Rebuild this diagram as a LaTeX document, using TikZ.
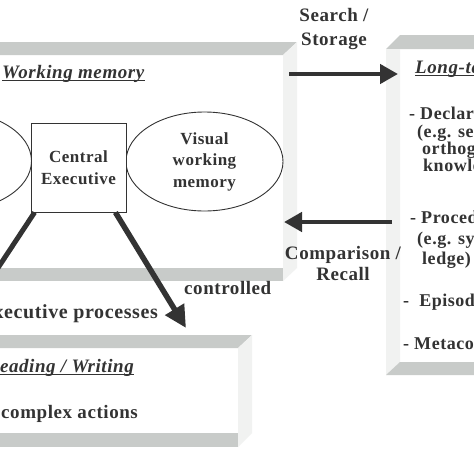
\documentclass[tikz,border=0pt]{standalone}
\usepackage{fontspec}
\setmainfont{Liberation Serif}[LetterSpace=3]
\usetikzlibrary{arrows.meta,shapes.geometric}
\definecolor{ink}{HTML}{333333}
\definecolor{barg}{HTML}{C8CBC9}
\definecolor{sideg}{HTML}{F1F2F1}
\newcommand\bodyf{\fontsize{19}{23}\selectfont\bfseries}
\newcommand\widef{\fontsize{20}{23}\selectfont\bfseries}
\newcommand\smallf{\fontsize{17}{21.5}\selectfont\bfseries}
\newcommand\ltmf{\fontsize{18}{17}\selectfont\bfseries}
\newcommand\hdf{\fontsize{19}{23}\selectfont\bfseries\itshape}
\begin{document}
\begin{tikzpicture}[x=1pt,y=-1pt,
  txt/.style={text=ink,inner sep=0pt,font=\bodyf},
  ltm/.style={text=ink,inner sep=0pt,font=\ltmf,anchor=base west},
  hd/.style={text=ink,inner sep=0pt,font=\hdf},
  ul/.style={draw=ink,line width=1.3pt},
  cebox/.style={draw=ink,line width=0.9pt,fill=white,minimum width=95pt,minimum height=89pt,inner sep=0pt,align=center,font=\smallf,text=ink},
  ell/.style={ellipse,draw=ink,line width=0.9pt,fill=white,minimum width=157pt,minimum height=99pt,inner sep=0pt,align=center,font=\smallf,text=ink},
  heavy/.style={draw=ink,line width=5pt},
  bigarrow/.style={draw=ink,line width=4.5pt,-{Triangle[length=18pt,width=19pt]}},
  slantarrow/.style={draw=ink,line width=5.5pt,-{Triangle[length=22pt,width=21pt]}}]
\useasboundingbox (0,0) rectangle (474,474);
\clip (0,0) rectangle (474,474);
\fill[white] (0,0) rectangle (474,474);
% working memory box
\fill[barg] (-20,42) -- (297,42) -- (283,55) -- (-20,55) -- cycle;
\fill[sideg] (283,55) -- (297,42) -- (297,268) -- (283,281) -- cycle;
\fill[barg] (-20,268) rectangle (283,281);
% long-term memory box
\fill[barg] (386,49) -- (400,35) -- (490,35) -- (490,49) -- cycle;
\fill[sideg] (386,49) -- (400,49) -- (400,362) -- (386,375) -- cycle;
\fill[barg] (386,375) -- (400,362) -- (490,362) -- (490,375) -- cycle;
% reading / writing box
\fill[barg] (-20,335) -- (252,335) -- (238,348) -- (-20,348) -- cycle;
\fill[sideg] (238,348) -- (252,335) -- (252,433) -- (238,447) -- cycle;
\fill[barg] (-20,433) rectangle (238,447);
% working memory content
\node[hd,anchor=base west] (wmt) at (2,78) {Working memory};
\draw[ul] ([yshift=-2.5pt]wmt.base west) -- ([yshift=-2.5pt]wmt.base east);
\node[ell] (pl) at (-47,161) {};
\node[ell] (vwm) at (204.5,161.5) {Visual\\working\\memory};
\node[cebox] (ce) at (78.5,167.5) {Central\\Executive};
% connectors from central executive
\coordinate (autoEnd) at (-12,283);
\coordinate (ctrlEnd) at (186,328);
\draw[heavy] ([xshift=4pt]ce.south west) -- (autoEnd);
\draw[slantarrow] ([xshift=-11pt]ce.south east) -- (ctrlEnd);
\node[txt,anchor=base west] (ctrl) at (184,294) {controlled};
\node[txt,font=\widef,anchor=base east] (exec) at (158,318) {executive processes};
% search / storage
\node[txt,anchor=base] (search) at (334,21) {Search /};
\node[txt,anchor=base] (storage) at (334,45) {Storage};
\coordinate (ssStart) at (289,74);
\coordinate (ssEnd) at (398,74);
\draw[bigarrow] (ssStart) -- (ssEnd);
% comparison / recall
\coordinate (crStart) at (392,222);
\coordinate (crEnd) at (284,222);
\draw[bigarrow] (crStart) -- (crEnd);
\node[txt,anchor=base] (comp) at (343,259.5) {Comparison /};
\node[txt,anchor=base] (recall) at (343,280) {Recall};
% long-term memory content
\node[hd,anchor=base west] (ltmt) at (415,73) {Long-term memory};
\draw[ul] ([yshift=-2.5pt]ltmt.base west) -- ([yshift=-2.5pt]ltmt.base east);
\node[ltm] (d1) at (409,119) {- Declarative};
\node[ltm] (d2) at (417,137) {(e.g. semantic,};
\node[ltm] (d3) at (422,154) {orthographic};
\node[ltm] (d4) at (423,171) {knowledge)};
\node[ltm] (p1) at (410,223) {- Procedural};
\node[ltm] (p2) at (417,244) {(e.g. syntactic know-};
\node[ltm] (p3) at (422,264) {ledge)};
\node[ltm] (e1) at (403,306) {-\ \ Episodic};
\node[ltm] (m1) at (403,349) {- Metacognitive};
% reading / writing content
\node[hd,anchor=base east] (rwt) at (134,372) {Reading / Writing};
\draw[ul] ([yshift=-2.5pt]rwt.base west) -- ([yshift=-2.5pt]rwt.base east);
\node[txt,anchor=base west] (cx) at (1,418) {complex actions};
\end{tikzpicture}
\end{document}
